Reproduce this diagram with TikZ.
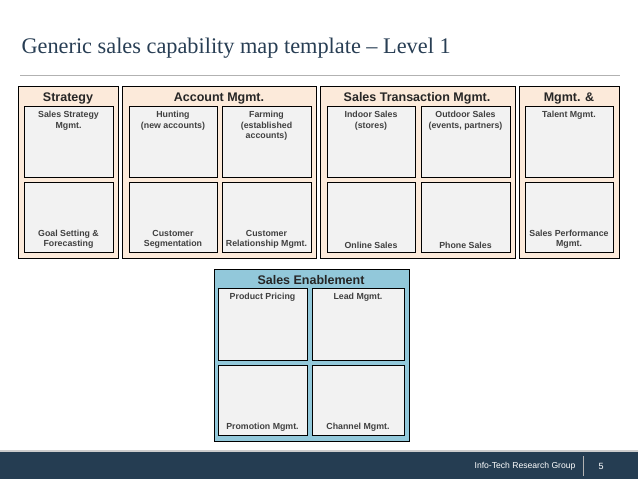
\documentclass[tikz,border=0pt]{standalone}
\usepackage{fontspec}
\setmainfont{Liberation Serif}
\newfontfamily\hv{Liberation Sans}
\definecolor{tanc}{RGB}{252,234,218}
\definecolor{bluc}{RGB}{146,200,218}
\definecolor{titc}{RGB}{40,62,84}
\definecolor{footc}{RGB}{37,61,82}
\begin{document}
\begin{tikzpicture}[x=1pt,y=-1pt,
 panel/.style={draw=black,line width=0.8pt,fill=#1},
 cell/.style={draw=black,line width=0.8pt,fill=gray!10},
 hd/.style={font=\hv\bfseries\fontsize{12.5}{14}\selectfont,text=black!85,anchor=base},
 lt/.style={font=\hv\bfseries\fontsize{8.8}{10.5}\selectfont,text=black!75,align=center,anchor=north,inner sep=1pt},
 lb/.style={font=\hv\bfseries\fontsize{8.8}{10.5}\selectfont,text=black!75,align=center,anchor=south,inner sep=1pt}]
\useasboundingbox (0,0) rectangle (638,479);
\fill[white] (0,0) rectangle (638,479);
\node[anchor=west,font=\fontsize{22.3}{25}\selectfont,text=titc] (title) at (18,48) {Generic sales capability map template -- Level 1};
\draw[gray!60,line width=1pt] (20,75) -- (620,75);
% panels
\draw[panel=tanc] (18,86) rectangle (118,258);
\draw[panel=tanc] (122,86) rectangle (316,258);
\draw[panel=tanc] (320,86) rectangle (515,258);
\draw[panel=tanc] (519,86) rectangle (619,258);
\draw[panel=bluc] (214,269) rectangle (409,441);
\node[hd] (h1) at (68,101.5) {Strategy};
\node[hd] (h2) at (219,101.5) {Account Mgmt.};
\node[hd] (h3) at (417,101.5) {Sales Transaction Mgmt.};
\node[hd] (h4) at (569,101.5) {Mgmt. \&};
\node[hd] (h5) at (311,284.5) {Sales Enablement};
% cells
\foreach \a/\b in {24/113,129/217,222/311,327/415,421/510,525/613}{
 \draw[cell] (\a,106) rectangle (\b,177);
 \draw[cell] (\a,182) rectangle (\b,252);}
\foreach \a/\b in {218/307,312/404}{
 \draw[cell] (\a,288) rectangle (\b,360);
 \draw[cell] (\a,365) rectangle (\b,435);}
\node[lt] (c1) at (68.5,110) {Sales Strategy\\Mgmt.};
\node[lt] (c2) at (173,110) {Hunting\\(new accounts)};
\node[lt] (c3) at (266.5,110) {Farming\\(established\\accounts)};
\node[lt] (c4) at (371,110) {Indoor Sales\\(stores)};
\node[lt] (c5) at (465.5,110) {Outdoor Sales\\(events, partners)};
\node[lt] (c6) at (569,110) {Talent Mgmt.};
\node[lb] (d1) at (68.5,250) {Goal Setting \&\\Forecasting};
\node[lb] (d2) at (173,250) {Customer\\Segmentation};
\node[lb] (d3) at (266.5,250) {Customer\\Relationship Mgmt.};
\node[lb] (d4) at (371,250) {Online Sales};
\node[lb] (d5) at (465.5,250) {Phone Sales};
\node[lb] (d6) at (569,250) {Sales Performance\\Mgmt.};
\node[lt] (e1) at (262.5,292) {Product Pricing};
\node[lt] (e2) at (358,292) {Lead Mgmt.};
\node[lb] (e3) at (262.5,433) {Promotion Mgmt.};
\node[lb] (e4) at (358,433) {Channel Mgmt.};
% footer
\fill[black!20] (0,450) rectangle (638,452);
\fill[footc] (0,452) rectangle (638,479);
\draw[white!70!black] (583,456) -- (583,476);
\node[anchor=east,text=white,font=\hv\fontsize{8.6}{10}\selectfont] (f1) at (579,466) {Info-Tech Research Group};
\node[text=white,font=\hv\fontsize{9}{10}\selectfont] (f2) at (601,466) {5};
\end{tikzpicture}
\end{document}
